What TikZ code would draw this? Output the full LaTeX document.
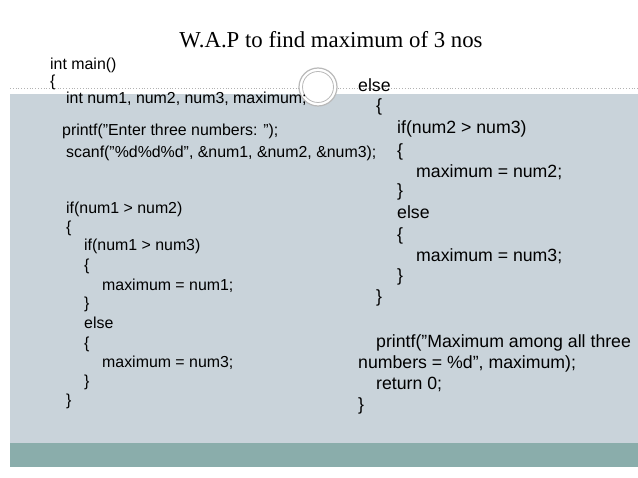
\documentclass[tikz,border=0pt]{standalone}
\usepackage{fontspec}
\setmainfont{Liberation Sans}
\newfontfamily\titlefont{Liberation Serif}
\definecolor{panel}{HTML}{C9D3DA}
\definecolor{band}{HTML}{8AADAB}
\begin{document}
\begin{tikzpicture}[x=1pt,y=-1pt,
  codeL/.style={anchor=west,inner sep=0pt,text height=0.72em,text depth=0.22em,font=\fontsize{15.9}{18}\selectfont},
  codeR/.style={anchor=west,inner sep=0pt,text height=0.72em,text depth=0.22em,font=\fontsize{17.7}{21}\selectfont}]
\useasboundingbox (0,0) rectangle (638,478);
\fill[panel] (10,94) rectangle (638,443);
\fill[band] (10,443) rectangle (638,467);
\draw[gray!60,dotted,line width=0.8pt] (10,88) -- (638,88);
\node[circle,fill=white,draw=gray!55,line width=1.2pt,minimum size=38pt] (orn) at (318,87) {};
\node[circle,draw=gray!55,line width=0.8pt,minimum size=31pt] (orn2) at (318,87) {};
\node[font=\titlefont\fontsize{22.8}{26}\selectfont] (title) at (331,40) {W.A.P to find maximum of 3 nos};
\node[codeL] (l1) at (50,67) {int main()};
\node[codeL] (l2) at (50,84) {\{};
\node[codeL] (l3) at (66,101) {int num1, num2, num3, maximum;};
\node[codeL] (l4) at (62,133) {printf("Enter three numbers: ");};
\node[codeL] (l5) at (66,155) {scanf("\%d\%d\%d", \&num1, \&num2, \&num3);};
\node[codeL] (l6) at (66,211) {if(num1 > num2)};
\node[codeL] (l7) at (66,230) {\{};
\node[codeL] (l8) at (84,248) {if(num1 > num3)};
\node[codeL] (l9) at (84,268) {\{};
\node[codeL] (l10) at (102,288) {maximum = num1;};
\node[codeL] (l11) at (84,306) {\}};
\node[codeL] (l12) at (84,326) {else};
\node[codeL] (l13) at (84,346) {\{};
\node[codeL] (l14) at (102,365) {maximum = num3;};
\node[codeL] (l15) at (84,384) {\}};
\node[codeL] (l16) at (66,403) {\}};
\node[codeR] (r1) at (358,89) {else};
\node[codeR] (r2) at (376,109) {\{};
\node[codeR] (r3) at (397,131) {if(num2 > num3)};
\node[codeR] (r4) at (397,154) {\{};
\node[codeR] (r5) at (416,175) {maximum = num2;};
\node[codeR] (r6) at (397,194) {\}};
\node[codeR] (r7) at (397,216) {else};
\node[codeR] (r8) at (397,238) {\{};
\node[codeR] (r9) at (416,259) {maximum = num3;};
\node[codeR] (r10) at (397,279) {\}};
\node[codeR] (r11) at (376,300) {\}};
\node[codeR] (r12) at (376,345) {printf("Maximum among all three};
\node[codeR] (r13) at (358,366) {numbers = \%d", maximum);};
\node[codeR] (r14) at (376,387) {return 0;};
\node[codeR] (r15) at (358,408) {\}};
\end{tikzpicture}
\end{document}
